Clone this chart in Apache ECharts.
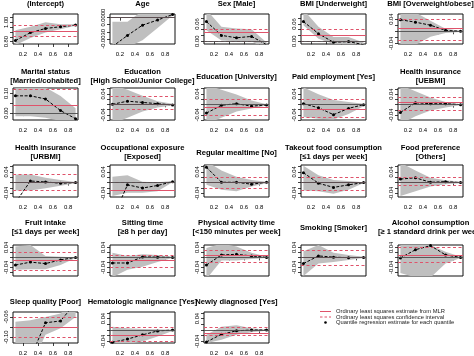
<!DOCTYPE html>
<html><head><meta charset="utf-8">
<script src="https://cdn.jsdelivr.net/npm/echarts@6/dist/echarts.min.js"></script>
<style>html,body{margin:0;padding:0;background:#fff}#c{width:474px;height:356px}</style>
</head><body><div id="c"></div>
<script>
// ---------- data ----------
const taus = [0.1, 0.3, 0.5, 0.7, 0.9];
const titles = [
  "(Intercept)", "Age", "Sex [Male]", "BMI [Underweight]", "BMI [Overweight/obese]",
  "Marital status\n[Married/cohabited]", "Education\n[High School/Junior College]", "Education [University]", "Paid employment [Yes]", "Health insurance\n[UEBMI]",
  "Health insurance\n[URBMI]", "Occupational exposure\n[Exposed]", "Regular mealtime [No]", "Takeout food consumption\n[\u22641 days per week]", "Food preference\n[Others]",
  "Fruit intake\n[\u22641 days per week]", "Sitting time\n[\u22658 h per day]", "Physical activity time\n[<150 minutes per week]", "Smoking [Smoker]", "Alcohol consumption\n[\u2265 1 standard drink per week]",
  "Sleep quality [Poor]", "Hematologic malignance [Yes]", "Newly diagnosed [Yes]"
];
// quantile regression estimates at taus
const qEst = [
  [0.811, 0.893, 0.936, 0.954, 0.971],
  [-0.0041, -0.00252, -0.00106, -0.00034, 0.00045],
  [0.0684, 0.0204, 0.012, 0.0168, -0.012],
  [0.0684, 0.0264, -0.0036, -0.0012, -0.012],
  [0.038, 0.03, 0.02, 0.003, 0.0],
  [0.0873, 0.0873, 0.0714, 0.0127, -0.0286],
  [0.0, 0.012, 0.0072, 0.0024, -0.0024],
  [-0.0336, -0.0036, 0.0024, -0.0072, -0.0024],
  [0.0024, -0.0132, -0.0396, -0.0156, -0.0012],
  [-0.03, 0.0072, 0.0036, 0.0036, 0.0],
  [-0.075, 0.006, 0.0024, -0.0024, 0.0],
  [-0.136, -0.0084, -0.0204, -0.0108, 0.0036],
  [0.0576, 0.0012, 0.0012, -0.006, 0.0012],
  [0.0372, -0.0024, -0.018, -0.0084, 0.0],
  [0.0132, 0.018, 0.0012, 0.0036, 0.0],
  [-0.031, -0.019, -0.025, -0.01, 0.0],
  [-0.0225, -0.0225, 0.002, 0.001, 0.0],
  [-0.031, 0.01, 0.0125, 0.006, 0.0],
  [-0.025, 0.006, 0.001, -0.001, 0.0],
  [-0.0025, 0.031, 0.0475, 0.01, 0.0],
  [-0.16, -0.141, -0.0716, -0.068, -0.032],
  [-0.0433, -0.0319, -0.0171, -0.0034, 0.0],
  [-0.042, -0.015, -0.003, 0.0, 0.0]
];
// lower and upper bounds of the quantile confidence band
const bandLo = [
  [0.764, 0.836, 0.893, 0.929, 0.964],
  [-0.006, -0.0042, -0.0032, -0.00145, 0.0003],
  [0.038, 0.0024, 0.0, 0.0, -0.03],
  [0.056, 0.0084, -0.0096, -0.0096, -0.025],
  [-0.06, -0.045, -0.018, -0.006, -0.002],
  [-0.016, -0.016, -0.024, -0.04, -0.05],
  [-0.075, -0.0516, -0.0276, -0.012, -0.0048],
  [-0.075, -0.0516, -0.0276, -0.0156, -0.0048],
  [-0.049, -0.055, -0.058, -0.037, -0.0072],
  [-0.075, -0.0444, -0.0228, -0.0108, -0.0024],
  [-0.03, -0.03, -0.0216, -0.012, -0.0024],
  [-0.05, -0.0384, -0.0384, -0.0324, 0.0012],
  [-0.0084, -0.0264, -0.0324, -0.0144, -0.0024],
  [-0.03, -0.0324, -0.042, -0.0264, -0.0012],
  [-0.05, -0.0324, -0.0144, -0.006, -0.0024],
  [-0.05, -0.0475, -0.0475, -0.031, -0.0025],
  [-0.08, -0.05, -0.0375, -0.019, -0.0025],
  [-0.087, -0.0125, -0.0125, -0.006, -0.0025],
  [-0.075, -0.025, -0.019, -0.01, -0.0025],
  [-0.0625, -0.081, -0.081, -0.025, -0.0025],
  [-0.2, -0.16, -0.0955, -0.0826, -0.06],
  [-0.055, -0.05, -0.04, -0.023, -0.0034],
  [-0.046, -0.034, -0.017, -0.008, -0.003]
];
const bandHi = [
  [0.918, 0.954, 1.0, 0.979, 0.979],
  [-0.00058, -0.00058, 0.00097, 0.0011, 0.0006],
  [0.11, 0.05, 0.044, 0.042, -0.004],
  [0.11, 0.05, 0.0144, 0.0144, -0.004],
  [0.07, 0.062, 0.035, 0.008, 0.002],
  [0.14, 0.14, 0.13, 0.087, 0.024],
  [0.075, 0.056, 0.0324, 0.012, 0.0024],
  [0.075, 0.056, 0.038, 0.0144, 0.0005],
  [0.065, 0.0384, 0.0168, 0.0084, 0.0024],
  [0.075, 0.0516, 0.0276, 0.0096, 0.0012],
  [0.03, 0.03, 0.018, 0.0096, 0.0024],
  [0.0216, 0.0276, 0.0036, 0.0012, 0.006],
  [0.08, 0.0456, 0.0216, 0.0096, 0.0036],
  [0.0636, 0.0276, 0.0096, 0.006, 0.0012],
  [0.075, 0.0456, 0.018, 0.0084, 0.0036],
  [0.044, 0.05, 0.006, 0.0025, 0.0005],
  [0.019, 0.006, 0.0125, 0.01, 0.0025],
  [0.0375, 0.056, 0.044, 0.019, 0.0025],
  [0.025, 0.05, 0.019, 0.01, 0.0025],
  [0.056, 0.056, 0.05, 0.0225, 0.0025],
  [-0.0697, -0.0665, -0.06, -0.0535, -0.02],
  [0.0114, 0.0057, 0.0034, 0.0023, 0.0011],
  [-0.017, 0.011, 0.017, 0.0057, 0.001]
];
// OLS estimate and its confidence interval
const olsEst = [0.911, -0.0014, 0.0264, 0.0228, 0.005, 0.0445, -0.0024, -0.012, -0.0216, 0.0072,
  0.0005, -0.0324, 0.0005, -0.0024, 0.0012, -0.0125, -0.006, 0.01, 0.0, 0.0125, -0.0826, -0.0194, -0.008];
const olsLo = [0.857, -0.00252, 0.0024, 0.0024, -0.03, -0.036, -0.024, -0.042, -0.0492, -0.0204,
  -0.0276, -0.0648, -0.0228, -0.0288, -0.0144, -0.0475, -0.0375, -0.019, -0.025, -0.019, -0.1019, -0.0422, -0.023];
const olsHi = [0.971, -0.00024, 0.042, 0.0408, 0.038, 0.124, 0.0264, 0.0204, 0.0204, 0.03,
  0.03, 0.0, 0.0216, 0.0216, 0.0216, 0.019, 0.015, 0.031, 0.0275, 0.044, -0.0632, 0.0057, 0.008];
// axis ranges and ticks
const yMin = [0.775, -0.00373, -0.0096, -0.0096, -0.042, -0.035, -0.06, -0.06, -0.06, -0.0588,
  -0.054, -0.054, -0.054, -0.054, -0.054, -0.075, -0.075, -0.075, -0.075, -0.075, -0.1116, -0.0456, -0.0456];
const yMax = [1.086, 0.00052, 0.0948, 0.0948, 0.057, 0.127, 0.0624, 0.0624, 0.0624, 0.0636,
  0.066, 0.066, 0.066, 0.066, 0.066, 0.05, 0.05, 0.05, 0.05, 0.05, -0.0503, 0.063, 0.063];
const yTickStep = [0.05, 0.001, 0.02, 0.02, 0.02, 0.05, 0.02, 0.02, 0.02, 0.02,
  0.02, 0.02, 0.02, 0.02, 0.02, 0.02, 0.02, 0.02, 0.02, 0.02, 0.02, 0.02, 0.02];
const yLabels = [[0.8, 1.0], [-0.003, 0], [0, 0.06], [0, 0.06], [-0.04, 0.04], [0, 0.1],
  [-0.04, 0.04], [-0.04, 0.04], [-0.04, 0.04], [-0.04, 0.04],
  [-0.04, 0.04], [-0.04, 0.04], [-0.04, 0.04], [-0.04, 0.04], [-0.04, 0.04],
  [-0.04, 0.04], [-0.04, 0.04], [-0.04, 0.04], [-0.04, 0.04], [-0.04, 0.04],
  [-0.1, -0.06], [-0.04, 0.04], [-0.04, 0.04]];
const yDecimals = [2, 4, 2, 2, 2, 2, 2, 2, 2, 2, 2, 2, 2, 2, 2, 2, 2, 2, 2, 2, 2, 2, 2];
const xTicks = [0.2, 0.4, 0.6, 0.8];
const xRange = [0.068, 0.932];
const legendLabels = ["Ordinary least squares estimate from MLR",
  "Ordinary least squares confidence interval",
  "Quantile regression estimate for each quantile"];

// ---------- layout / style ----------
const FONT = '"Liberation Sans", Arial, Helvetica, sans-serif';
const RED = '#DF536B', BAND = '#BFBFBF', ZERO = '#4D4D4D';
const colLeft = [13, 110, 204, 301, 398], boxW = 65;
const rowTop = [14, 88, 165, 245, 312], rowH = [30, 32, 32, 31, 31];
const titleSingleY = [4, 77, 153, 228, 302];
const titleDoubleY = [4, 76.5, 152.5, 227.5, 302];

const grid = [], xAxis = [], yAxis = [], series = [], graphic = [];
function ticksFor(i) {
  const out = [], s = yTickStep[i];
  for (let k = Math.ceil(yMin[i] / s - 1e-9); k * s <= yMax[i] + 1e-12; k++) out.push(+(k * s).toFixed(6));
  return out;
}
for (let i = 0; i < titles.length; i++) {
  const r = Math.floor(i / 5), c = i % 5;
  grid.push({left: colLeft[c], top: rowTop[r], width: boxW, height: rowH[r], show: true,
    borderColor: '#111', borderWidth: 1, backgroundColor: 'transparent', containLabel: false});
  xAxis.push({type: 'value', gridIndex: i, min: xRange[0], max: xRange[1],
    axisLine: {show: false}, splitLine: {show: false},
    axisTick: {show: true, inside: false, length: 3, lineStyle: {color: '#111', width: 0.8}, customValues: xTicks},
    axisLabel: {show: r !== 3, customValues: xTicks, formatter: v => v.toFixed(1), fontSize: 6,
      color: '#000', margin: 7, fontFamily: FONT}});
  const dec = yDecimals[i];
  yAxis.push({type: 'value', gridIndex: i, min: yMin[i], max: yMax[i],
    axisLine: {show: false}, splitLine: {show: false},
    axisTick: {show: true, inside: false, length: 3, lineStyle: {color: '#111', width: 0.8}, customValues: ticksFor(i)},
    axisLabel: {rotate: 90, customValues: yLabels[i], formatter: v => (+v).toFixed(dec), fontSize: 5.8,
      color: '#000', margin: 4, fontFamily: FONT}});
  // confidence band as polygon through the axis scales
  series.push({type: 'custom', xAxisIndex: i, yAxisIndex: i, z: 1, silent: true,
    data: taus.map((t, j) => [t, bandLo[i][j], bandHi[i][j]]),
    encode: {x: 0, y: [1, 2]},
    renderItem: (params, api) => {
      if (params.dataIndex !== 0) return {type: 'group', children: []};
      const pts = [];
      for (let j = 0; j < taus.length; j++) pts.push(api.coord([taus[j], bandHi[i][j]]));
      for (let j = taus.length - 1; j >= 0; j--) pts.push(api.coord([taus[j], bandLo[i][j]]));
      const cs = params.coordSys;
      return {type: 'group', clipPath: {type: 'rect', shape: {x: cs.x, y: cs.y, width: cs.width, height: cs.height}},
        children: [{type: 'polygon', shape: {points: pts}, style: {fill: BAND, stroke: null}}]};
    }});
  // quantile estimates
  series.push({type: 'line', name: legendLabels[2], xAxisIndex: i, yAxisIndex: i,
    data: taus.map((t, j) => [t, qEst[i][j]]), symbol: 'circle', symbolSize: 3, showSymbol: true,
    itemStyle: {color: '#000'}, lineStyle: {color: '#000', width: 1, type: [3, 1.6]}, z: 3, clip: true, silent: true});
  // OLS lines and zero line
  const inR = v => v >= yMin[i] && v <= yMax[i];
  const ml = [];
  if (inR(olsEst[i])) ml.push({yAxis: olsEst[i], lineStyle: {color: RED, type: 'solid', width: 1}});
  if (inR(olsLo[i])) ml.push({yAxis: olsLo[i], lineStyle: {color: RED, type: [3, 2.5], width: 1}});
  if (inR(olsHi[i])) ml.push({yAxis: olsHi[i], lineStyle: {color: RED, type: [3, 2.5], width: 1}});
  if (inR(0)) ml.push({yAxis: 0, lineStyle: {color: ZERO, type: 'solid', width: 0.9}});
  series.push({type: 'line', xAxisIndex: i, yAxisIndex: i, data: taus.map((t, j) => [t, qEst[i][j]]),
    symbol: 'none', lineStyle: {opacity: 0, width: 0}, silent: true, z: 4,
    markLine: {silent: true, symbol: 'none', label: {show: false}, animation: false, data: ml}});
  // title
  const two = titles[i].indexOf('\n') >= 0;
  graphic.push({type: 'text', x: colLeft[c] + boxW / 2, y: two ? titleDoubleY[r] : titleSingleY[r], silent: true,
    style: {text: titles[i], align: 'center', verticalAlign: 'middle', fontSize: 7.6, fontWeight: 'bold',
      fontFamily: FONT, lineHeight: 9.5, fill: '#000'}});
}
// legend
const lgX = 320, lgY = [311.5, 317, 322.5];
graphic.push({type: 'line', silent: true, shape: {x1: lgX, y1: lgY[0], x2: lgX + 11, y2: lgY[0]}, style: {stroke: RED, lineWidth: 1}});
graphic.push({type: 'line', silent: true, shape: {x1: lgX, y1: lgY[1], x2: lgX + 11, y2: lgY[1]}, style: {stroke: RED, lineWidth: 1, lineDash: [2.5, 2]}});
graphic.push({type: 'circle', silent: true, shape: {cx: lgX + 5.5, cy: lgY[2], r: 1.3}, style: {fill: '#000'}});
for (let k = 0; k < 3; k++) {
  graphic.push({type: 'text', x: lgX + 16, y: lgY[k], silent: true,
    style: {text: legendLabels[k], align: 'left', verticalAlign: 'middle', fontSize: 5.8, fontFamily: FONT, fill: '#222'}});
}

const chart = echarts.init(document.getElementById('c'), null, {renderer: 'canvas'});
chart.setOption({animation: false, backgroundColor: '#fff', grid, xAxis, yAxis, series, graphic});
</script>
</body></html>
